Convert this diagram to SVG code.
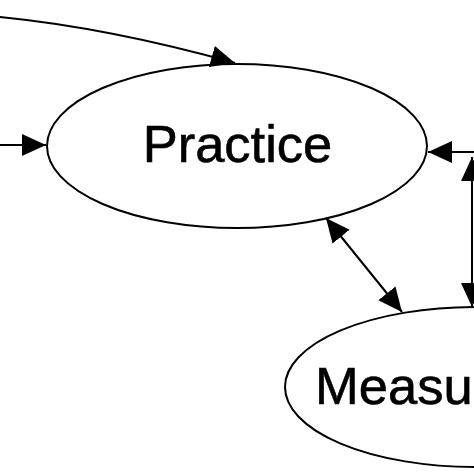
<svg xmlns="http://www.w3.org/2000/svg" width="474" height="474" viewBox="0 0 474 474">
<style>
.node{fill:#fff;stroke:#000;stroke-width:2}
.lbl{font-family:"Liberation Sans",Arial,sans-serif;font-size:52.5px;fill:#000;stroke:#000;stroke-width:0.6}
.edge{fill:none;stroke:#000;stroke-width:2}
</style>
<defs>
<marker id="ah" markerUnits="userSpaceOnUse" markerWidth="26" markerHeight="24" refX="24" refY="11" orient="auto-start-reverse" viewBox="0 0 26 24">
<path d="M0,0 L24,11 L0,22 z" fill="#000"/>
</marker>
</defs>
<rect width="474" height="474" fill="#fff"/>
<g id="practice">
<ellipse class="node" cx="237" cy="146" rx="190" ry="82"/>
<text class="lbl" x="237.5" y="162" text-anchor="middle">Practice</text>
</g>
<g id="measure">
<ellipse class="node" cx="475" cy="387" rx="190" ry="80"/>
<text class="lbl" x="315" y="404">Measu</text>
</g>
<g id="connectors">
<path class="edge" d="M0,17 Q110,28 235,63" marker-end="url(#ah)"/>
<path class="edge" d="M0,145 L46,145" marker-end="url(#ah)"/>
<path class="edge" d="M476,152 L428,152" marker-end="url(#ah)"/>
<path class="edge" d="M326,218 L402,312" marker-start="url(#ah)" marker-end="url(#ah)"/>
<path class="edge" d="M472,157 L472,307" stroke="#aaa" marker-start="url(#ah)" marker-end="url(#ah)"/>
</g>
</svg>
